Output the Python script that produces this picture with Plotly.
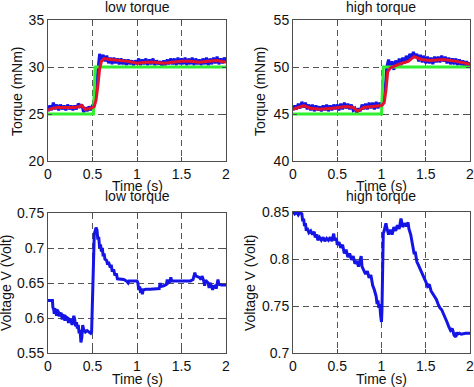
import plotly.graph_objects as go

# ---------------- data ----------------
t_blue = [round(i * 0.02, 2) for i in range(101)]

low_meas = [25.3, 25.9, 25.4, 26.2, 25.5, 26.0, 25.4, 26.0, 25.5, 25.9,
            25.4, 26.0, 25.5, 25.9, 25.4, 25.9, 25.5, 26.1, 25.8, 26.0,
            25.2, 25.7, 25.3, 25.8, 25.4, 25.9, 26.1, 27.5, 29.5, 31.4,
            30.7, 31.3, 30.6, 31.2, 30.4, 31.0, 30.3, 31.0, 30.4, 30.9,
            30.3, 30.9, 30.3, 30.8, 30.2, 30.8, 30.3, 30.7, 30.2, 30.7,
            30.3, 30.9, 30.2, 30.8, 30.3, 30.9, 30.2, 30.8, 30.3, 30.9,
            30.2, 30.7, 30.3, 30.6, 30.1, 30.7, 30.2, 30.8, 30.3, 30.9,
            30.3, 30.9, 30.2, 31.0, 30.3, 30.9, 30.3, 31.0, 30.2, 30.9,
            30.3, 31.0, 30.2, 30.9, 30.3, 30.8, 30.2, 30.9, 30.3, 31.0,
            30.2, 30.9, 30.3, 31.0, 30.4, 31.1, 30.3, 30.9, 30.4, 31.0,
            30.5]

low_filt_t = [0, 0.05, 0.1, 0.2, 0.3, 0.35, 0.38, 0.42, 0.48, 0.52, 0.54,
              0.56, 0.58, 0.6, 0.63, 0.7, 0.8, 0.9, 1.0, 1.1, 1.2, 1.3, 1.4,
              1.5, 1.6, 1.7, 1.8, 1.9, 2.0]
low_filt = [25.4, 25.6, 25.7, 25.7, 25.7, 25.8, 25.9, 25.5, 25.6, 25.8, 26.5,
            28.0, 29.8, 30.6, 30.9, 30.8, 30.7, 30.6, 30.4, 30.5, 30.5, 30.4,
            30.5, 30.6, 30.6, 30.5, 30.6, 30.7, 30.5]

low_ref_t = [0, 0.51, 0.53, 2]
low_ref = [25, 25, 30, 30]

high_meas = [45.4, 45.9, 45.5, 46.1, 45.6, 46.3, 45.7, 46.2, 45.5, 46.0,
             45.4, 46.0, 45.3, 45.9, 45.4, 45.8, 45.3, 45.9, 45.4, 46.0,
             45.3, 45.9, 45.4, 46.0, 45.5, 46.0, 45.4, 46.1, 45.5, 46.2,
             45.6, 46.1, 45.5, 46.0, 45.4, 45.6, 45.1, 45.6, 45.3, 46.0,
             45.5, 46.1, 45.5, 46.2, 45.6, 46.2, 45.5, 46.3, 45.6, 46.2,
             45.8, 46.4, 47.5, 50.0, 50.8, 49.9, 50.6, 49.7, 50.7, 50.0,
             50.9, 50.2, 51.0, 50.4, 51.2, 50.6, 51.4, 50.9, 51.6, 51.0,
             51.4, 50.6, 51.3, 50.5, 51.2, 50.4, 51.1, 50.4, 51.0, 50.3,
             51.1, 50.5, 51.1, 50.5, 51.2, 50.6, 51.1, 50.4, 51.0, 50.3,
             50.9, 50.3, 50.9, 50.2, 50.8, 50.2, 50.7, 50.1, 50.6, 50.1,
             50.5]

high_filt_t = [0, 0.12, 0.2, 0.3, 0.45, 0.6, 0.68, 0.73, 0.8, 0.9, 1.0, 1.03,
               1.05, 1.07, 1.1, 1.2, 1.3, 1.37, 1.45, 1.55, 1.7, 1.85, 2.0]
high_filt = [45.5, 45.9, 45.6, 45.5, 45.6, 45.8, 45.7, 45.3, 45.7, 45.8, 45.9,
             46.2, 47.5, 49.5, 49.9, 50.3, 50.6, 51.1, 50.8, 50.7, 50.8, 50.6,
             50.3]

high_ref_t = [0, 1.0, 1.02, 2]
high_ref = [45, 45, 50, 50]

low_v_t = [0.00, 0.05, 0.055, 0.065, 0.07, 0.075, 0.09, 0.095, 0.10, 0.12,
           0.125, 0.13, 0.15, 0.16, 0.165, 0.18, 0.19, 0.20, 0.22, 0.23, 0.24,
           0.26, 0.27, 0.28, 0.29, 0.30, 0.31, 0.32, 0.33, 0.34, 0.35, 0.36,
           0.37, 0.38, 0.385, 0.39, 0.40, 0.42, 0.44, 0.46, 0.48, 0.49, 0.50,
           0.51, 0.52, 0.54, 0.55, 0.56, 0.57, 0.58, 0.59, 0.60, 0.61, 0.62,
           0.63, 0.64, 0.66, 0.67, 0.68, 0.70, 0.71, 0.72, 0.74, 0.75, 0.77,
           0.78, 0.80, 0.82, 0.85, 0.88, 0.90, 0.91, 0.95, 1.00, 1.01, 1.02,
           1.03, 1.04, 1.05, 1.06, 1.07, 1.10, 1.15, 1.20, 1.25, 1.26, 1.27,
           1.30, 1.33, 1.34, 1.35, 1.37, 1.38, 1.39, 1.45, 1.50, 1.55, 1.60,
           1.63, 1.65, 1.66, 1.70, 1.72, 1.73, 1.75, 1.76, 1.77, 1.80, 1.81,
           1.82, 1.84, 1.85, 1.86, 1.88, 1.89, 1.90, 1.91, 1.92, 1.95, 2.00]
low_v = [0.625, 0.625, 0.615, 0.612, 0.606, 0.613, 0.611, 0.603, 0.612, 0.608,
         0.602, 0.607, 0.606, 0.598, 0.604, 0.603, 0.596, 0.602, 0.600, 0.593,
         0.598, 0.596, 0.590, 0.596, 0.603, 0.598, 0.588, 0.594, 0.585, 0.590,
         0.578, 0.583, 0.565, 0.572, 0.585, 0.590, 0.584, 0.580, 0.582, 0.580,
         0.578, 0.580, 0.620, 0.690, 0.720, 0.729, 0.726, 0.712, 0.716, 0.700,
         0.705, 0.695, 0.700, 0.688, 0.692, 0.684, 0.682, 0.676, 0.680, 0.672,
         0.676, 0.668, 0.668, 0.662, 0.662, 0.656, 0.656, 0.655, 0.655, 0.653,
         0.650, 0.653, 0.653, 0.653, 0.650, 0.640, 0.645, 0.636, 0.642, 0.634,
         0.640, 0.641, 0.641, 0.641, 0.642, 0.650, 0.645, 0.646, 0.648, 0.655,
         0.650, 0.652, 0.658, 0.653, 0.653, 0.653, 0.653, 0.653, 0.655, 0.665,
         0.660, 0.658, 0.655, 0.660, 0.653, 0.646, 0.654, 0.650, 0.643, 0.650,
         0.645, 0.640, 0.645, 0.646, 0.642, 0.648, 0.655, 0.648, 0.647, 0.647]

high_v_t = [0.00, 0.02, 0.04, 0.06, 0.08, 0.10, 0.11, 0.12, 0.13, 0.14, 0.15,
            0.16, 0.18, 0.20, 0.22, 0.24, 0.25, 0.27, 0.28, 0.30, 0.32, 0.34,
            0.36, 0.38, 0.40, 0.42, 0.44, 0.46, 0.47, 0.49, 0.50, 0.52, 0.54,
            0.56, 0.58, 0.60, 0.62, 0.64, 0.66, 0.68, 0.70, 0.72, 0.74, 0.76,
            0.77, 0.78, 0.80, 0.82, 0.84, 0.86, 0.88, 0.90, 0.92, 0.94, 0.95,
            0.96, 0.97, 0.98, 0.99, 1.00, 1.005, 1.01, 1.02, 1.03, 1.05, 1.06,
            1.08, 1.10, 1.12, 1.14, 1.16, 1.18, 1.20, 1.22, 1.24, 1.26, 1.28,
            1.30, 1.31, 1.33, 1.35, 1.37, 1.38, 1.40, 1.42, 1.44, 1.46, 1.48,
            1.50, 1.52, 1.54, 1.56, 1.58, 1.60, 1.62, 1.64, 1.66, 1.68, 1.70,
            1.72, 1.74, 1.76, 1.78, 1.80, 1.82, 1.84, 1.85, 1.86, 1.88, 1.90,
            1.95, 2.00]
high_v = [0.851, 0.848, 0.850, 0.847, 0.850, 0.848, 0.840, 0.843, 0.835, 0.838,
          0.830, 0.833, 0.828, 0.830, 0.826, 0.829, 0.823, 0.826, 0.820, 0.823,
          0.820, 0.823, 0.819, 0.822, 0.820, 0.823, 0.819, 0.827, 0.820, 0.822,
          0.815, 0.818, 0.812, 0.815, 0.806, 0.810, 0.802, 0.806, 0.799, 0.803,
          0.795, 0.798, 0.792, 0.800, 0.803, 0.792, 0.788, 0.784, 0.787, 0.780,
          0.783, 0.772, 0.767, 0.760, 0.752, 0.756, 0.748, 0.752, 0.740, 0.733,
          0.745, 0.800, 0.827, 0.830, 0.838, 0.833, 0.826, 0.831, 0.826, 0.834,
          0.830, 0.836, 0.832, 0.843, 0.834, 0.838, 0.835, 0.839, 0.832, 0.826,
          0.814, 0.805, 0.808, 0.797, 0.793, 0.789, 0.784, 0.781, 0.776, 0.771,
          0.773, 0.766, 0.763, 0.760, 0.757, 0.752, 0.748, 0.746, 0.742, 0.738,
          0.733, 0.728, 0.724, 0.726, 0.719, 0.717, 0.722, 0.720, 0.721, 0.720,
          0.721, 0.721]

x_ticks = [0, 0.5, 1, 1.5, 2]
x_ticktext = ["0", "0.5", "1", "1.5", "2"]
low_t_ticks = [20, 25, 30, 35]
high_t_ticks = [40, 45, 50, 55]
low_v_ticks = [0.55, 0.6, 0.65, 0.7, 0.75]
low_v_ticktext = ["0.55", "0.6", "0.65", "0.7", "0.75"]
high_v_ticks = [0.7, 0.75, 0.8, 0.85]
high_v_ticktext = ["0.7", "0.75", "0.8", "0.85"]

titles = ["low torque", "high torque", "low torque", "high torque"]
x_label = "Time (s)"
torque_label = "Torque (mNm)"
volt_label = "Voltage V (Volt)"

# ---------------- styling ----------------
BLUE = "#1414e6"
RED = "#e3122c"
GREEN = "#2ef02e"
FONT = "Liberation Sans, Arial, sans-serif"
W, H = 474, 387

fig = go.Figure()

def add(x, y, color, xa, ya, width=3):
    fig.add_trace(go.Scatter(x=x, y=y, mode="lines", xaxis=xa, yaxis=ya,
                             line=dict(color=color, width=width),
                             showlegend=False, hoverinfo="skip"))

add(t_blue, low_meas, BLUE, "x", "y")
add(low_ref_t, low_ref, GREEN, "x", "y")
add(low_filt_t, low_filt, RED, "x", "y")
add(t_blue, high_meas, BLUE, "x2", "y2")
add(high_ref_t, high_ref, GREEN, "x2", "y2")
add(high_filt_t, high_filt, RED, "x2", "y2")
add(low_v_t, low_v, BLUE, "x3", "y3")
add(high_v_t, high_v, BLUE, "x4", "y4")

# pixel boxes (left, right, top, bottom)
boxes = [(48, 226, 20, 161), (293, 470, 20, 161),
         (48, 226, 213, 353), (293, 470, 212, 353)]

def xd(l, r):
    return [l / W, r / W]

def yd(t, b):
    return [1 - b / H, 1 - t / H]

axis_common = dict(showline=True, linecolor="#4d4d4d", linewidth=1, mirror="ticks",
                   ticks="inside", ticklen=4, tickcolor="#4d4d4d", automargin=False,
                   showgrid=True, gridcolor="#555555", griddash="6px,4px", gridwidth=1,
                   zeroline=False, ticklabeloverflow="allow",
                   tickfont=dict(family=FONT, size=14, color="#111"))

yranges = [(20, 35), (40, 55), (0.55, 0.75), (0.7, 0.85)]
yticks = [(low_t_ticks, [str(v) for v in low_t_ticks]),
          (high_t_ticks, [str(v) for v in high_t_ticks]),
          (low_v_ticks, low_v_ticktext),
          (high_v_ticks, high_v_ticktext)]

layout = {}
for i, (l, r, t, b) in enumerate(boxes):
    sfx = "" if i == 0 else str(i + 1)
    layout["xaxis" + sfx] = dict(axis_common, domain=xd(l, r), range=[0, 2],
                                 tickvals=x_ticks, ticktext=x_ticktext,
                                 anchor="y" + sfx)
    layout["yaxis" + sfx] = dict(axis_common, domain=yd(t, b), range=list(yranges[i]),
                                 tickvals=yticks[i][0], ticktext=yticks[i][1],
                                 anchor="x" + sfx)

ann = []
tcenters = [(137, 7), (381, 7), (137, 196), (381, 196)]
for txt, (cx, cy) in zip(titles, tcenters):
    ann.append(dict(text=txt, x=cx / W, y=1 - cy / H, xref="paper", yref="paper",
                    showarrow=False, xanchor="center", yanchor="middle",
                    font=dict(family=FONT, size=14, color="#111")))
for (cx, cy) in [(137, 186), (381, 186), (137, 379), (381, 379)]:
    ann.append(dict(text=x_label, x=cx / W, y=1 - cy / H, xref="paper", yref="paper",
                    showarrow=False, xanchor="center", yanchor="middle",
                    font=dict(family=FONT, size=14, color="#111")))
for txt, (cx, cy) in [(torque_label, (17, 92)), (torque_label, (260, 92)),
                      (volt_label, (6, 283)), (volt_label, (250, 283))]:
    ann.append(dict(text=txt, x=cx / W, y=1 - cy / H, xref="paper", yref="paper",
                    showarrow=False, xanchor="center", yanchor="middle", textangle=-90,
                    font=dict(family=FONT, size=14, color="#111")))

fig.update_layout(width=W, height=H, margin=dict(l=0, r=0, t=0, b=0),
                  paper_bgcolor="white", plot_bgcolor="white",
                  annotations=ann, **layout)

fig.write_html("out.html", config={"displayModeBar": False},
               post_script="document.body.style.margin='0';document.body.style.overflow='hidden';")
